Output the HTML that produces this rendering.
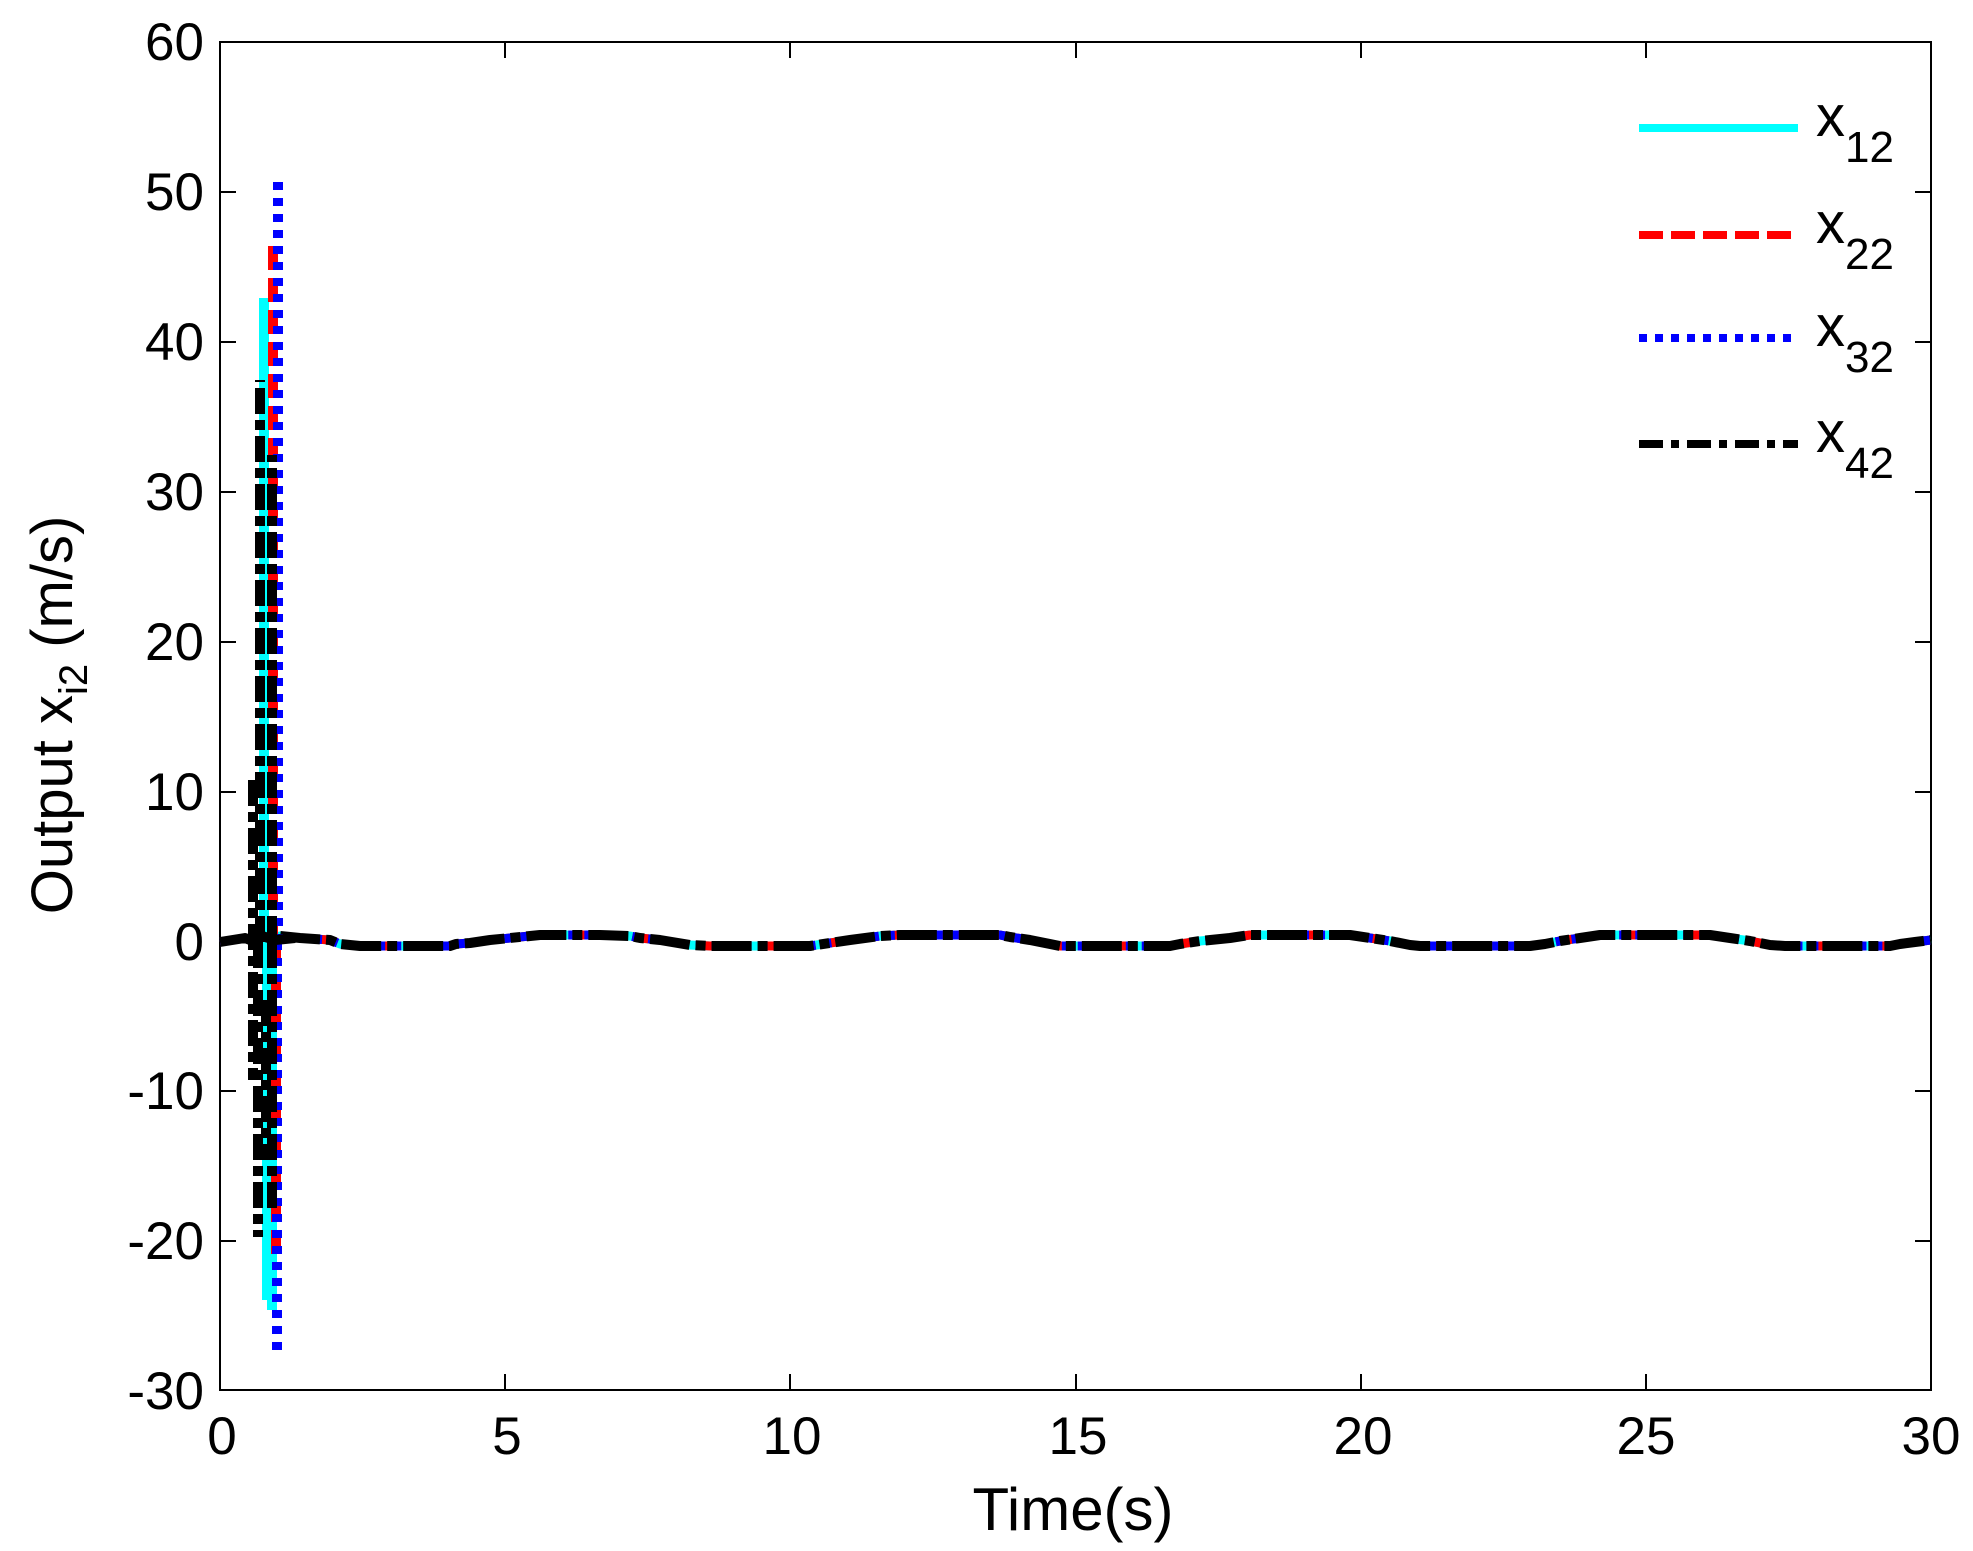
<!DOCTYPE html>
<html><head><meta charset="utf-8"><style>
html,body{margin:0;padding:0;background:#fff;}
svg{display:block;font-family:"Liberation Sans",Arial,sans-serif;}
</style></head><body>
<svg width="1973" height="1551" viewBox="0 0 1973 1551" xmlns="http://www.w3.org/2000/svg">
<rect width="1973" height="1551" fill="#fff"/>
<g stroke="#000" stroke-width="2" fill="none">
<rect x="220" y="42" width="1711" height="1348"/>
<path d="M220 192h16M220 342h16M220 492h16M220 642h16M220 792h16M220 942h16M220 1091h16M220 1241h16
M1931 192h-16M1931 342h-16M1931 492h-16M1931 642h-16M1931 792h-16M1931 942h-16M1931 1091h-16M1931 1241h-16
M505 1390v-16M790 1390v-16M1076 1390v-16M1361 1390v-16M1646 1390v-16
M505 42v16M790 42v16M1076 42v16M1361 42v16M1646 42v16"/>
</g>
<g font-size="53" fill="#000" text-anchor="end">
<text x="204" y="60">60</text><text x="204" y="210">50</text><text x="204" y="360">40</text>
<text x="204" y="510">30</text><text x="204" y="660">20</text><text x="204" y="810">10</text>
<text x="204" y="960">0</text><text x="204" y="1109">-10</text><text x="204" y="1259">-20</text>
<text x="204" y="1409">-30</text>
</g>
<g font-size="53" fill="#000" text-anchor="middle">
<text x="222" y="1454">0</text><text x="507" y="1454">5</text><text x="792" y="1454">10</text>
<text x="1078" y="1454">15</text><text x="1363" y="1454">20</text><text x="1646" y="1454">25</text>
<text x="1931" y="1454">30</text>
</g>
<text x="1073" y="1530" font-size="60" text-anchor="middle">Time(s)</text>
<text transform="translate(72,715) rotate(-90)" font-size="58" text-anchor="middle">Output x<tspan font-size="40" dy="15">i2</tspan><tspan dy="-15"> (m/s)</tspan></text>

<!-- baseline curves -->
<g fill="none" stroke-width="9" stroke-linejoin="round">
<path d="M220 942L245 938L255 942L280 936L300 938L330 940L340 944L360 946L400 946L450 946L456 944L470 943L490 940L510 938L540 935L600 935L630 936L640 938L660 940L690 945L710 946L810 946L830 943L850 940L880 936L900 935L1000 935L1010 937L1030 940L1050 944L1060 946L1170 946L1180 944L1200 941L1230 938L1250 935L1350 935L1370 938L1390 941L1410 945L1420 946L1530 946L1545 944L1560 941L1580 938L1600 935L1710 935L1730 938L1750 941L1770 945L1785 946L1890 946L1900 944L1915 942L1931 940" stroke="#00ffff"/>
<path d="M220 942L245 938L255 942L280 936L300 938L330 940L340 944L360 946L400 946L450 946L456 944L470 943L490 940L510 938L540 935L600 935L630 936L640 938L660 940L690 945L710 946L810 946L830 943L850 940L880 936L900 935L1000 935L1010 937L1030 940L1050 944L1060 946L1170 946L1180 944L1200 941L1230 938L1250 935L1350 935L1370 938L1390 941L1410 945L1420 946L1530 946L1545 944L1560 941L1580 938L1600 935L1710 935L1730 938L1750 941L1770 945L1785 946L1890 946L1900 944L1915 942L1931 940" stroke="#ff0000" stroke-dasharray="24 8"/>
<path d="M220 942L245 938L255 942L280 936L300 938L330 940L340 944L360 946L400 946L450 946L456 944L470 943L490 940L510 938L540 935L600 935L630 936L640 938L660 940L690 945L710 946L810 946L830 943L850 940L880 936L900 935L1000 935L1010 937L1030 940L1050 944L1060 946L1170 946L1180 944L1200 941L1230 938L1250 935L1350 935L1370 938L1390 941L1410 945L1420 946L1530 946L1545 944L1560 941L1580 938L1600 935L1710 935L1730 938L1750 941L1770 945L1785 946L1890 946L1900 944L1915 942L1931 940" stroke="#0000ff" stroke-dasharray="8 8"/>
<path d="M220 942L245 938L255 942L280 936L300 938L330 940L340 944L360 946L400 946L450 946L456 944L470 943L490 940L510 938L540 935L600 935L630 936L640 938L660 940L690 945L710 946L810 946L830 943L850 940L880 936L900 935L1000 935L1010 937L1030 940L1050 944L1060 946L1170 946L1180 944L1200 941L1230 938L1250 935L1350 935L1370 938L1390 941L1410 945L1420 946L1530 946L1545 944L1560 941L1580 938L1600 935L1710 935L1730 938L1750 941L1770 945L1785 946L1890 946L1900 944L1915 942L1931 940" stroke="#000" stroke-width="10" stroke-dasharray="40 6 10 6"/>
</g>

<!-- spikes -->
<g fill="none" stroke-width="10">
<path d="M264 942V298M267 942V1300M272 942V1310" stroke="#00ffff"/>
<path d="M273 942V240M276 942V1260" stroke="#ff0000" stroke-dasharray="24 8"/>
<path d="M278 942V180M277 942V1352" stroke="#0000ff" stroke-dasharray="8 8"/>
<path d="M260 942V380M258 942V1237M253 780V1080M272 942V455M272 942V1210M266 1000V1160" stroke="#000" stroke-dasharray="26 6 10 6"/>
<path d="M248 942L262 936L275 940L295 938" stroke="#000"/>
</g>

<!-- legend -->
<g stroke-width="8" fill="none">
<path d="M1639 128H1798" stroke="#00ffff"/>
<path d="M1639 235H1798" stroke="#ff0000" stroke-dasharray="24 8"/>
<path d="M1639 338H1798" stroke="#0000ff" stroke-dasharray="8 8"/>
<path d="M1639 444H1798" stroke="#000" stroke-dasharray="24 8 8 8"/>
</g>
<g font-size="58" fill="#000">
<text x="1816" y="136">x<tspan font-size="44" dy="26">12</tspan></text>
<text x="1816" y="243">x<tspan font-size="44" dy="26">22</tspan></text>
<text x="1816" y="346">x<tspan font-size="44" dy="26">32</tspan></text>
<text x="1816" y="452">x<tspan font-size="44" dy="26">42</tspan></text>
</g>
</svg>
</body></html>
